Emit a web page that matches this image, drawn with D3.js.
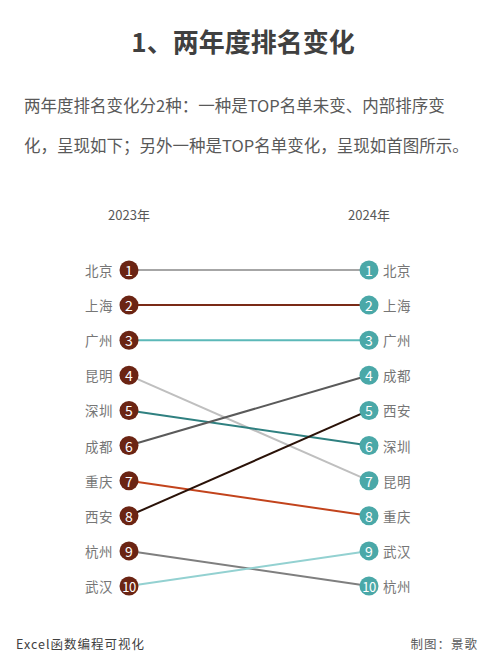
<!DOCTYPE html>
<meta charset="utf-8">
<style>
    body { margin: 0; background: #fff; }
    svg text { font-family: "Noto Sans CJK SC", "Noto Sans", sans-serif; }
</style>
<body>
<script src="https://cdn.jsdelivr.net/npm/d3@7/dist/d3.min.js"></script>
<script>
    /* data */
    var years = ["2023年", "2024年"];
    var ranks = [1, 2, 3, 4, 5, 6, 7, 8, 9, 10];
    var cities2023 = ["北京", "上海", "广州", "昆明", "深圳", "成都", "重庆", "西安", "杭州", "武汉"];
    var cities2024 = ["北京", "上海", "广州", "成都", "西安", "深圳", "昆明", "重庆", "武汉", "杭州"];
    var lineColors = ["#a6a6a6", "#7a2a17", "#5bb8b8", "#bfbfbf", "#2f8080",
                      "#5a5a5a", "#c2431c", "#2a1208", "#7f7f7f", "#93d1d1"];
    var titleText = "1、两年度排名变化";
    var descLines = ["两年度排名变化分2种：一种是TOP名单未变、内部排序变",
                     "化，呈现如下；另外一种是TOP名单变化，呈现如首图所示。"];

    var w = 500, h = 667;
    var svg = d3.select("body").append("svg")
        .attr("width", w)
        .attr("height", h);

    /* title + description */
    svg.append("text")
        .attr("x", 243)
        .attr("y", 40)
        .attr("text-anchor", "middle")
        .attr("dominant-baseline", "central")
        .attr("font-size", 26)
        .attr("font-weight", "bold")
        .attr("fill", "#404040")
        .text(titleText);

    svg.selectAll(".desc")
        .data(descLines)
        .enter().append("text")
        .attr("class", "desc")
        .attr("x", 24)
        .attr("y", function (d, i) { return 105 + i * 40; })
        .attr("dominant-baseline", "central")
        .attr("font-size", 16.5)
        .attr("fill", "#595959")
        .text(function (d) { return d; });

    /* scales */
    var xScale = d3.scalePoint().domain(years).range([129, 369]);
    var yScale = d3.scalePoint().domain(ranks).range([270, 586]);

    // year headers
    svg.selectAll(".year")
        .data(years)
        .enter().append("text")
        .attr("class", "year")
        .attr("x", function (d) { return xScale(d); })
        .attr("y", 214)
        .attr("text-anchor", "middle")
        .attr("dominant-baseline", "central")
        .attr("font-size", 13)
        .attr("fill", "#595959")
        .text(function (d) { return d; });

    // connecting lines
    var links = cities2023.map(function (c, i) {
        return { city: c, from: ranks[i], to: ranks[cities2024.indexOf(c)], color: lineColors[i] };
    });

    svg.selectAll(".link")
        .data(links)
        .enter().append("line")
        .attr("class", "link")
        .attr("x1", xScale(years[0]))
        .attr("x2", xScale(years[1]))
        .attr("y1", function (d) { return yScale(d.from); })
        .attr("y2", function (d) { return yScale(d.to); })
        .attr("stroke", function (d) { return d.color; })
        .attr("stroke-width", 2);

    // markers + labels for each year
    var sides = [
        { year: years[0], cities: cities2023, fill: "#6b2413", dx: -16, anchor: "end" },
        { year: years[1], cities: cities2024, fill: "#4aa8a8", dx: 14, anchor: "start" }
    ];

    sides.forEach(function (s) {
        var g = svg.append("g");
        g.selectAll("circle")
            .data(ranks)
            .enter().append("circle")
            .attr("cx", xScale(s.year))
            .attr("cy", function (d) { return yScale(d); })
            .attr("r", 9.5)
            .attr("fill", s.fill);

        g.selectAll(".num")
            .data(ranks)
            .enter().append("text")
            .attr("class", "num")
            .attr("x", xScale(s.year))
            .attr("y", function (d) { return yScale(d); })
            .attr("text-anchor", "middle")
            .attr("dominant-baseline", "central")
            .attr("font-size", function (d) { return d > 9 ? 13 : 14; })
            .attr("letter-spacing", function (d) { return d > 9 ? -0.5 : 0; })
            .attr("fill", "#fff")
            .text(function (d) { return d; });

        g.selectAll(".city")
            .data(ranks)
            .enter().append("text")
            .attr("class", "city")
            .attr("x", xScale(s.year) + s.dx)
            .attr("y", function (d) { return yScale(d); })
            .attr("text-anchor", s.anchor)
            .attr("dominant-baseline", "central")
            .attr("font-size", 13.5)
            .attr("letter-spacing", 0.5)
            .attr("fill", "#767676")
            .text(function (d, i) { return s.cities[i]; });
    });

    /* footer */
    svg.append("text")
        .attr("x", 16)
        .attr("y", 643)
        .attr("dominant-baseline", "central")
        .attr("font-size", 12.5)
        .attr("letter-spacing", 1)
        .attr("fill", "#404040")
        .text("Excel函数编程可视化");

    svg.append("text")
        .attr("x", 478)
        .attr("y", 643)
        .attr("text-anchor", "end")
        .attr("dominant-baseline", "central")
        .attr("font-size", 12.5)
        .attr("letter-spacing", 1)
        .attr("fill", "#595959")
        .text("制图：景歌");
</script>
</body>
